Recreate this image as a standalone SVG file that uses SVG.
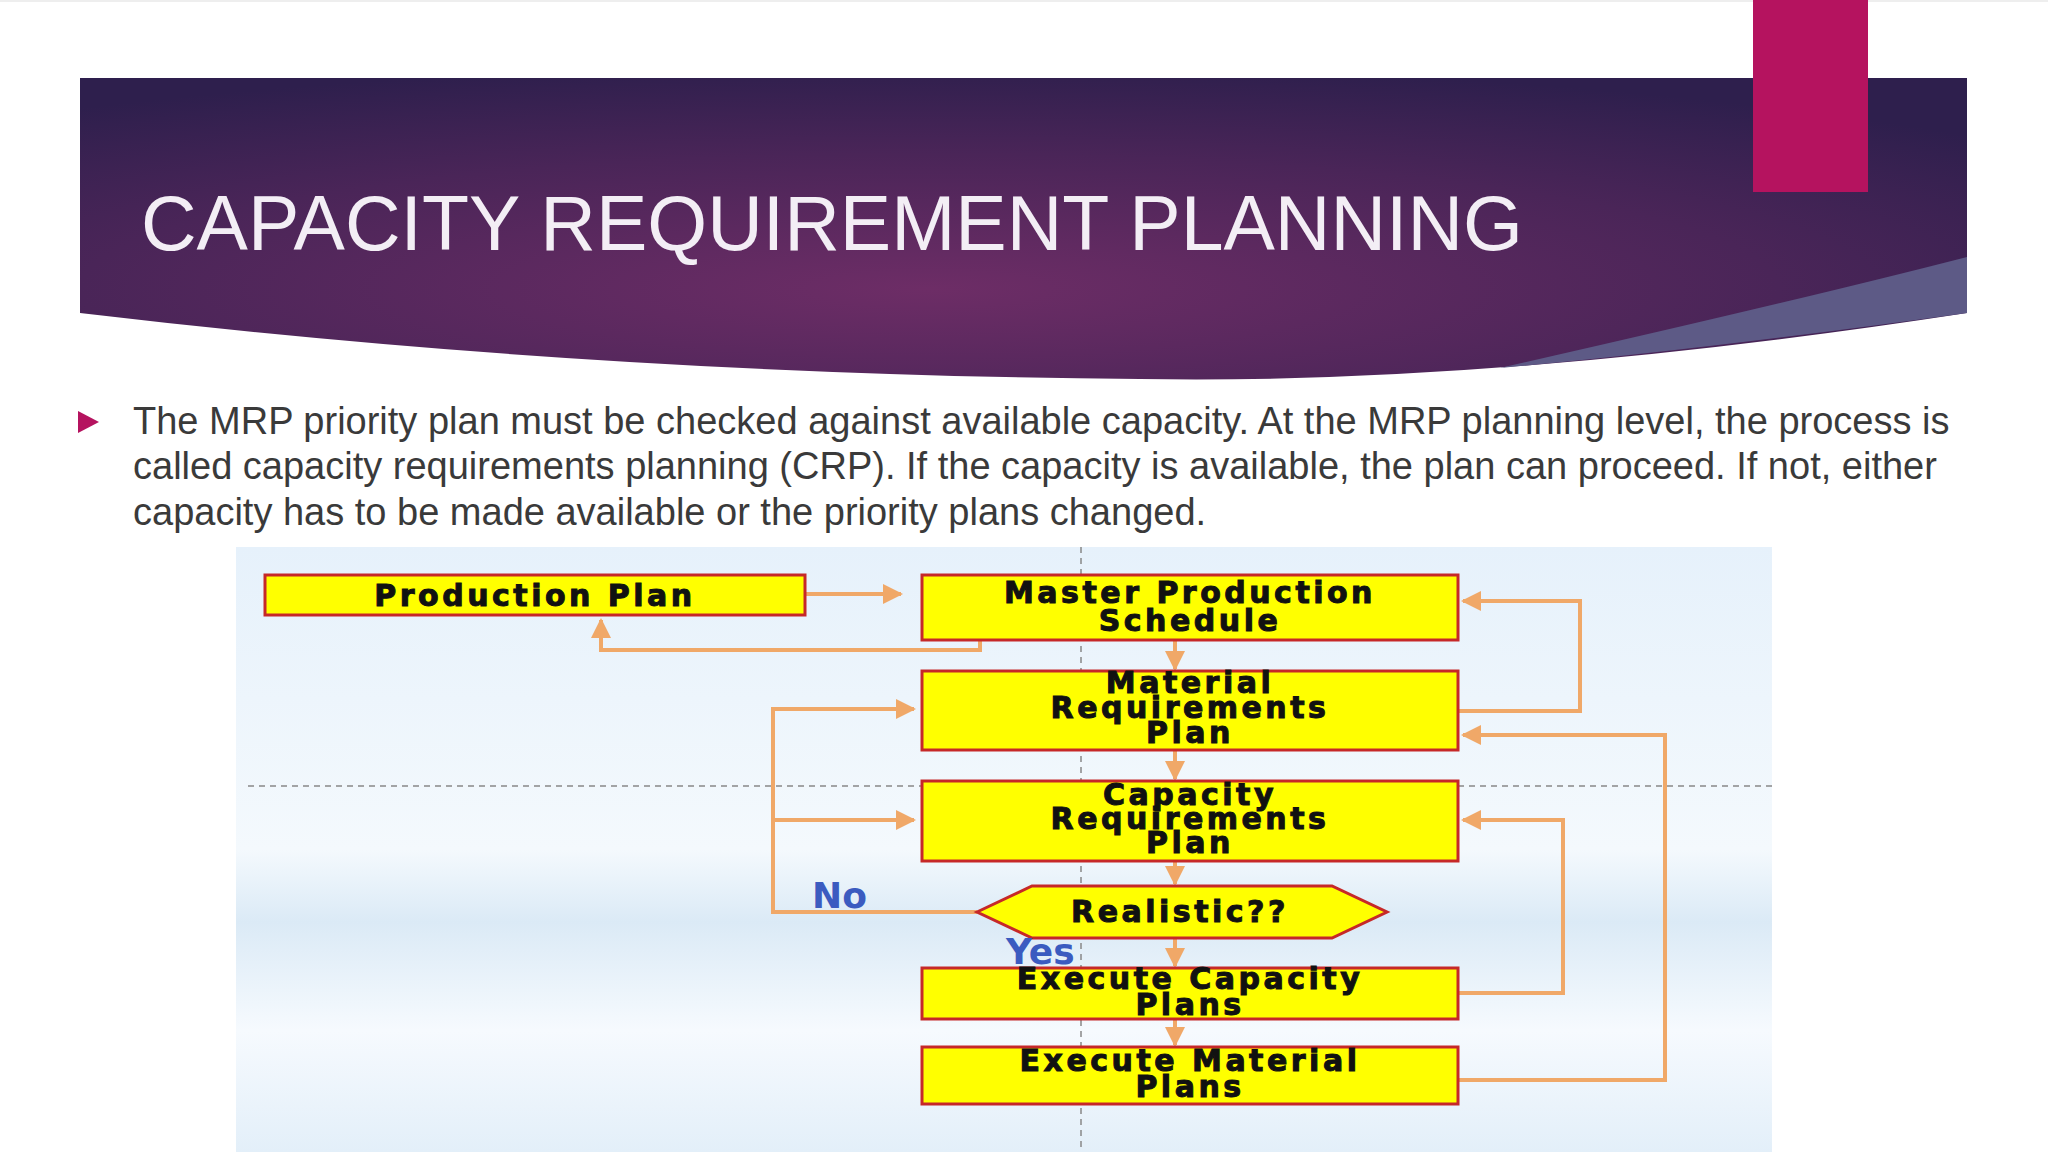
<svg xmlns="http://www.w3.org/2000/svg" width="2048" height="1152" viewBox="0 0 2048 1152">
<defs>
<radialGradient id="hdr" cx="0.45" cy="0.7" r="0.75">
<stop offset="0" stop-color="#6d2d66"/><stop offset="0.6" stop-color="#4a2558"/><stop offset="1" stop-color="#2e1f4d"/></radialGradient>
<linearGradient id="bg" x1="0" y1="0" x2="0" y2="1">
<stop offset="0" stop-color="#e6f1fb"/><stop offset="0.5" stop-color="#f4f9fd"/><stop offset="0.62" stop-color="#dbeaf6"/><stop offset="0.8" stop-color="#f6fafe"/><stop offset="1" stop-color="#e3eff9"/></linearGradient>
<marker id="ar" viewBox="0 0 10 10" refX="9" refY="5" markerWidth="5" markerHeight="5" orient="auto"><path d="M0,0 L10,5 L0,10 z" fill="#f0a868"/></marker>
<style>
.box{fill:#ffff00;stroke:#c62828;stroke-width:3}
.bt{font-family:"DejaVu Sans",sans-serif;font-weight:bold;font-size:30px;fill:#111;stroke:#111;stroke-width:1;text-anchor:middle;letter-spacing:3.5px}
.c{fill:none;stroke:#f0a868;stroke-width:4}
.d{stroke:#888;stroke-width:1.5;stroke-dasharray:6 5;fill:none}
.lb{font-family:"DejaVu Sans",sans-serif;font-weight:bold;font-size:36px;fill:#3b5bc0}
</style>
</defs>
<rect width="2048" height="1152" fill="#fff"/>
<line x1="0" y1="1" x2="2048" y2="1" stroke="#ddd"/>
<path d="M80,78 H1967 V313 Q1500,385 1140,379 Q600,375 80,313 Z" fill="url(#hdr)"/>
<path d="M1967,257 V313 Q1700,350 1500,368 Q1800,300 1967,257 Z" fill="#5d5a86"/>
<rect x="1753" y="0" width="115" height="192" fill="#b5135f"/>
<text x="141" y="250" font-family="Liberation Sans, sans-serif" font-size="77" fill="#f3eef5">CAPACITY REQUIREMENT PLANNING</text>
<path d="M78,411 L99,422 L78,433 Z" fill="#b5135f"/>
<g font-family="Liberation Sans, sans-serif" font-size="38" fill="#3a3a3a">
<text x="133" y="434">The MRP priority plan must be checked against available capacity. At the MRP planning level, the process is</text>
<text x="133" y="479">called capacity requirements planning (CRP). If the capacity is available, the plan can proceed. If not, either</text>
<text x="133" y="525">capacity has to be made available or the priority plans changed.</text>
</g>
<rect x="236" y="547" width="1536" height="605" fill="url(#bg)"/>
<line class="d" x1="248" y1="786" x2="1772" y2="786"/>
<line class="d" x1="1081" y1="547" x2="1081" y2="1152"/>
<g id="connectors">
<path class="c" d="M805,594 H901" marker-end="url(#ar)"/>
<path class="c" d="M980,640 V650 H601 V620" marker-end="url(#ar)"/>
<path class="c" d="M1175,640 V669" marker-end="url(#ar)"/>
<path class="c" d="M1175,750 V779" marker-end="url(#ar)"/>
<path class="c" d="M1175,861 V884" marker-end="url(#ar)"/>
<path class="c" d="M1175,938 V966" marker-end="url(#ar)"/>
<path class="c" d="M1175,1019 V1045" marker-end="url(#ar)"/>
<path class="c" d="M1458,711 H1580 V601 H1463" marker-end="url(#ar)"/>
<path class="c" d="M1458,1080 H1665 V735 H1463" marker-end="url(#ar)"/>
<path class="c" d="M1458,993 H1563 V820 H1463" marker-end="url(#ar)"/>
<path class="c" d="M977,912 H773 V709 H914" marker-end="url(#ar)"/>
<path class="c" d="M773,820 H914" marker-end="url(#ar)"/>
</g>
<g id="pp"><rect class="box" x="265" y="575" width="540" height="40"/><text class="bt" x="535" y="606">Production Plan</text></g>
<g id="mps"><rect class="box" x="922" y="575" width="536" height="65"/><text class="bt" x="1190" y="603">Master Production</text><text class="bt" x="1190" y="631">Schedule</text></g>
<g id="mrp"><rect class="box" x="922" y="671" width="536" height="79"/><text class="bt" x="1190" y="693">Material</text><text class="bt" x="1190" y="718">Requirements</text><text class="bt" x="1190" y="743">Plan</text></g>
<g id="crp"><rect class="box" x="922" y="781" width="536" height="80"/><text class="bt" x="1190" y="805">Capacity</text><text class="bt" x="1190" y="829">Requirements</text><text class="bt" x="1190" y="853">Plan</text></g>
<g id="real"><path class="box" d="M977,912 L1032,886 H1332 L1387,912 L1332,938 H1032 Z"/><text class="bt" x="1180" y="922">Realistic??</text></g>
<g id="ecp"><rect class="box" x="922" y="968" width="536" height="51"/><text class="bt" x="1190" y="989">Execute Capacity</text><text class="bt" x="1190" y="1015">Plans</text></g>
<g id="emp"><rect class="box" x="922" y="1047" width="536" height="57"/><text class="bt" x="1190" y="1071">Execute Material</text><text class="bt" x="1190" y="1097">Plans</text></g>
<text class="lb" x="812" y="908">No</text>
<text class="lb" x="1006" y="964">Yes</text>
</svg>
